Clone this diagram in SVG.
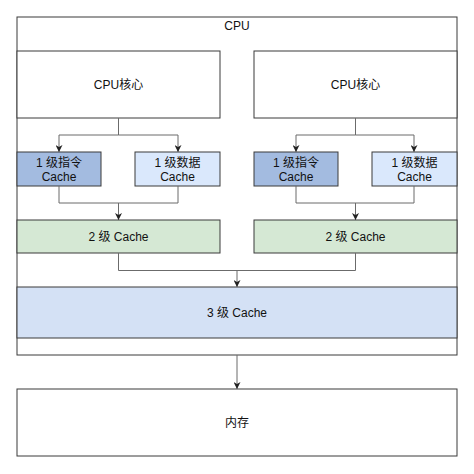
<svg xmlns="http://www.w3.org/2000/svg" width="474" height="474" viewBox="0 0 474 474">
<defs>
<marker id="arr" viewBox="0 0 10 10" refX="10" refY="5" markerWidth="7" markerHeight="7" markerUnits="userSpaceOnUse" orient="auto">
<path d="M0,0 L10,5 L0,10 L3,5 Z" fill="#222"/>
</marker>
</defs>
<style>
rect{stroke:#3a3a3a;stroke-width:1}
text{font-family:"Liberation Sans","Noto Sans CJK SC",sans-serif;font-size:12px;fill:#111;text-anchor:middle;dominant-baseline:central}
.c{fill:none;stroke:#6b6b6b;stroke-width:1}
.ca{fill:none;stroke:#6b6b6b;stroke-width:1;marker-end:url(#arr)}
</style>
<rect width="474" height="474" fill="#fff" style="stroke:none"/>
<g id="cpu"><rect x="17" y="17" width="440" height="338" fill="#fff"/><text x="237" y="26">CPU</text></g>
<g id="core1"><rect x="17" y="51" width="203" height="67" fill="#fff"/><text x="118.5" y="85">CPU核心</text></g>
<g id="core2"><rect x="254" y="51" width="203" height="67" fill="#fff"/><text x="355.5" y="85">CPU核心</text></g>
<g id="l1i1"><rect x="17" y="152" width="84" height="34" fill="#a3bbe0"/><text x="59" y="162.5">1 级指令</text><text x="59" y="177">Cache</text></g>
<g id="l1d1"><rect x="135" y="152" width="85" height="34" fill="#dae8fc"/><text x="177.5" y="162.5">1 级数据</text><text x="177.5" y="177">Cache</text></g>
<g id="l1i2"><rect x="254" y="152" width="84" height="34" fill="#a3bbe0"/><text x="296" y="162.5">1 级指令</text><text x="296" y="177">Cache</text></g>
<g id="l1d2"><rect x="372" y="152" width="85" height="34" fill="#dae8fc"/><text x="414.5" y="162.5">1 级数据</text><text x="414.5" y="177">Cache</text></g>
<g id="l2a"><rect x="17" y="220" width="203" height="33" fill="#d5e8d4"/><text x="118.5" y="237">2 级 Cache</text></g>
<g id="l2b"><rect x="254" y="220" width="203" height="33" fill="#d5e8d4"/><text x="355.5" y="237">2 级 Cache</text></g>
<g id="l3"><rect x="17" y="287" width="440" height="51" fill="#d4e1f5"/><text x="237" y="313">3 级 Cache</text></g>
<g id="mem"><rect x="17" y="389" width="440" height="67" fill="#fff"/><text x="237" y="423">内存</text></g>
<g id="connectors">
<path class="c" d="M118.5,118 V135"/>
<path class="ca" d="M118.5,135 H59 V152"/>
<path class="ca" d="M118.5,135 H178 V152"/>
<path class="c" d="M355.5,118 V135"/>
<path class="ca" d="M355.5,135 H296 V152"/>
<path class="ca" d="M355.5,135 H414 V152"/>
<path class="c" d="M59,186 V203 H178 V186"/>
<path class="ca" d="M118.5,203 V220"/>
<path class="c" d="M296,186 V203 H414 V186"/>
<path class="ca" d="M355.5,203 V220"/>
<path class="c" d="M118.5,253 V270.5 H355.5 V253"/>
<path class="ca" d="M237,270.5 V287"/>
<path class="ca" d="M237,355 V389"/>
</g>
</svg>
